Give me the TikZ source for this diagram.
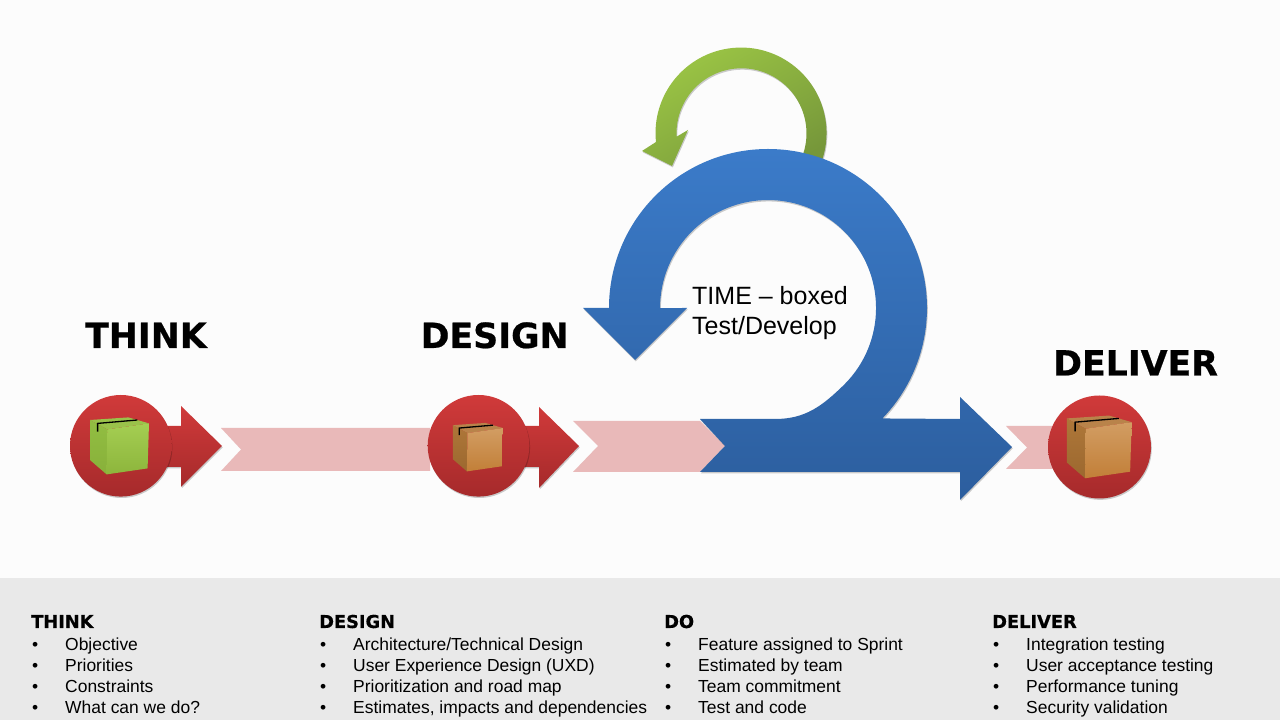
\documentclass[tikz,border=0pt]{standalone}
\usepackage{fontspec}
\setmainfont{Liberation Sans}
\newfontfamily\headfont{DejaVu Sans Bold}[FakeBold=0.6]
\definecolor{paper}{HTML}{FCFCFC}
\definecolor{band}{HTML}{E9E9E9}
\definecolor{pinkbar}{HTML}{E9B9B9}
\definecolor{redtop}{HTML}{D03A3A}
\definecolor{redbot}{HTML}{A62A2B}
\definecolor{bluetop}{HTML}{3B7BC9}
\definecolor{bluebot}{HTML}{2C5E9E}
\definecolor{greentop}{HTML}{9CC645}
\definecolor{greenbot}{HTML}{76973A}
% box colours
\definecolor{grntop}{HTML}{9AC24A}
\definecolor{grnfronta}{HTML}{A4CE52}
\definecolor{grnfrontb}{HTML}{8DB53C}
\definecolor{grnsidea}{HTML}{92BE42}
\definecolor{grnsideb}{HTML}{88B03A}
\definecolor{brntop}{HTML}{B9834A}
\definecolor{brnfronta}{HTML}{D29D63}
\definecolor{brnfrontb}{HTML}{C27F38}
\definecolor{brnsidea}{HTML}{AE7739}
\definecolor{brnsideb}{HTML}{9C682F}
\tikzset{
  softshadow/.style={black,opacity=0.2,shift={(0.8,-1.4)}},
  redshape/.style={top color=redtop,bottom color=redbot},
  blueshape/.style={top color=bluetop,bottom color=bluebot},
  greenshape/.style={top color=greentop,bottom color=greenbot,shading angle=30},
  pinkshape/.style={fill=pinkbar},
  heading/.style={anchor=base west,font=\headfont\fontsize{34.7}{35}\selectfont,inner sep=0pt},
  listhead/.style={anchor=base west,font=\headfont\fontsize{17.8}{18}\selectfont,inner sep=0pt},
  listitem/.style={anchor=base west,font=\fontsize{17.45}{18}\selectfont,inner sep=0pt},
  looptext/.style={anchor=base west,font=\fontsize{25}{30}\selectfont,inner sep=0pt}
}
% style, path
\newcommand{\softshade}[2]{
  \fill[softshadow] #2;
  \shade[#1] #2;
}
% x, y, scale, colour prefix
\newcommand{\cargobox}[4]{
  \begin{scope}[shift={(#1,#2)},scale=#3]
    \fill[#4top] (-29.3,25.7) -- (9,28.3) -- (29.7,22.3) -- (-12,16.3) -- cycle;
    \shade[top color=#4sidea,bottom color=#4sideb] (-29.3,25.7) -- (-12,16.3) -- (-12.7,-28.7) -- (-29.3,-14.3) -- cycle;
    \shade[top color=#4fronta,bottom color=#4frontb] (-12,16.3) -- (29.7,22.3) -- (28.3,-22.7) -- (-12.7,-28.7) -- cycle;
    \draw[black,line width=1.3pt] (-21.7,14) -- (-21.7,22.3) -- (18,25.7);
  \end{scope}
}
\begin{document}
\begin{tikzpicture}[x=1pt,y=1pt]
  \useasboundingbox (0,0) rectangle (1280,720);
  \fill[paper] (0,0) rectangle (1280,720);
  \fill[band] (0,0) rectangle (1280,142);

  % pink bars
  \fill[pinkshape] (221,292) -- (430,292) -- (430,249) -- (221,249) -- (241,270.5) -- cycle;
  \fill[pinkshape] (573,299) -- (700,299) -- (725,274) -- (700,248) -- (573,248) -- (598,274) -- cycle;
  \fill[pinkshape] (1006,294) -- (1060,294) -- (1060,251) -- (1006,251) -- (1027,272.5) -- cycle;

  % red arrows
  \softshade{redshape}{(150,294) -- (181,294) -- (181,314) -- (222,274) -- (181,233) -- (181,253) -- (150,253) -- cycle}
  \softshade{redshape}{(507,294) -- (539,294) -- (539,313) -- (579,274) -- (539,232) -- (539,253) -- (507,253) -- cycle}

  % red circles
  \softshade{redshape}{(120.8,274.2) circle (50.8)}
  \softshade{redshape}{(478.5,274.2) circle (50.8)}
  \softshade{redshape}{(1099.5,273) circle (51.5)}

  % boxes
  \cargobox{119.3}{274.3}{1}{grn}
  \cargobox{477.7}{273}{0.85}{brn}
  \cargobox{1099}{273.3}{1.1}{brn}

  % green loop
  \softshade{greenshape}{(656,578) arc[start angle=186,end angle=-30,radius=85.5]
    -- ++(-17.3,10) arc[start angle=-30,end angle=183,radius=65]
    -- (688,590) -- (672,554) -- (642,569) -- cycle}

  % blue arrow
  \softshade{blueshape}{(700,248) -- (725,274) -- (700,301) -- (775,301)
    .. controls (805,301) and (822,313.6) .. (844.4,335.6)
    arc[start angle=-45,end angle=180,radius=108]
    -- (687,412) -- (635,360) -- (583,412) -- (609,412)
    arc[start angle=180,end angle=-44,radius=159]
    -- (960,301) -- (960,323) -- (1012,273) -- (960,220) -- (960,248) -- cycle}

  \node[looptext] (timebox) at (692,415) {TIME -- boxed};
  \node[looptext] (testdev) at (692,385) {Test/Develop};

  % headings
  \node[heading] (think) at (85,372) {THINK};
  \node[heading] (design) at (420.5,372) {DESIGN};
  \node[heading] (deliver) at (1053,344.5) {DELIVER};

  % lists
  \foreach \colx/\coln/\colh/\itema/\itemb/\itemc/\itemd in {
    31/thk/THINK/Objective/Priorities/Constraints/What can we do?,
    319/dsg/DESIGN/Architecture\slash Technical Design/User Experience Design (UXD)/Prioritization and road map/{Estimates, impacts and dependencies},
    664/dod/DO/Feature assigned to Sprint/Estimated by team/Team commitment/Test and code,
    992/dlv/DELIVER/Integration testing/User acceptance testing/Performance tuning/Security validation} {
    \node[listhead] (\coln-h) at (\colx,92) {\colh};
    \foreach \n/\txt [count=\i from 0] in {a/\itema,b/\itemb,c/\itemc,d/\itemd} {
      \node[listitem] (\coln-\n-b) at (\colx+1,69-\i*20.7) {\textbullet};
      \node[listitem] (\coln-\n) at (\colx+34,69-\i*20.7) {\txt};
    }
  }
\end{tikzpicture}
\end{document}
